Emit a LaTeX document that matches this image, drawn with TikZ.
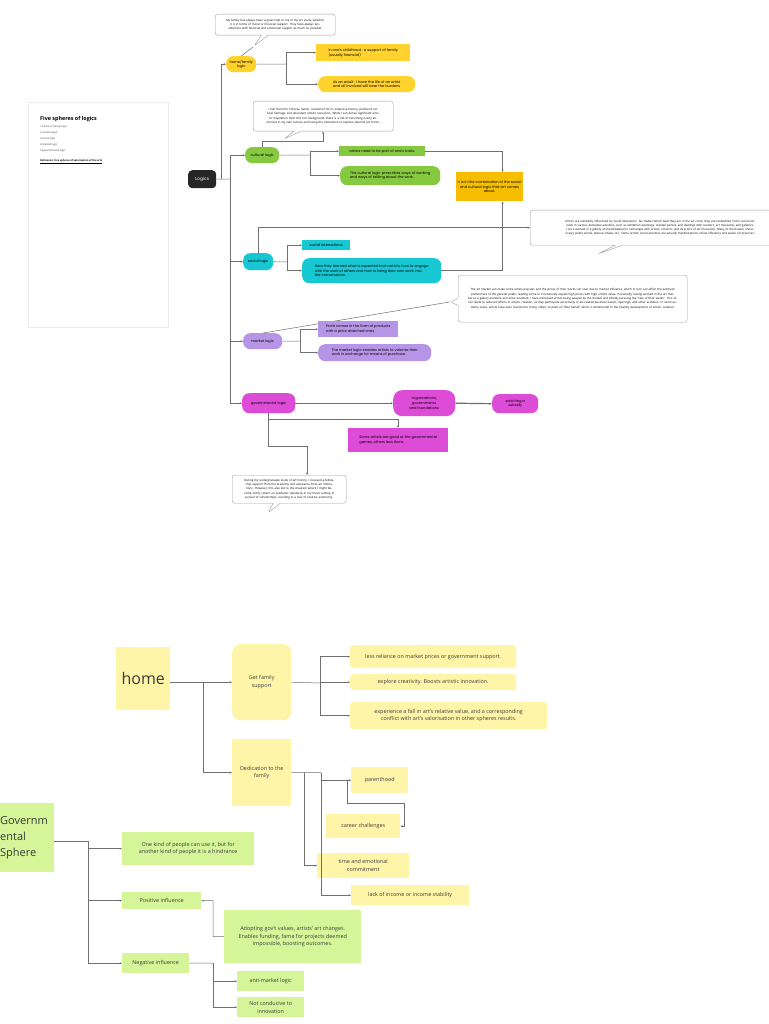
\documentclass[tikz,border=0pt]{standalone}
\usepackage{fontspec}
\setmainfont{Open Sans}
\newfontfamily\popfont{Poppins}
\usepackage{xcolor}
\usepackage{tikz}
\usetikzlibrary{arrows.meta,positioning,shapes.misc,shapes.callouts}

\definecolor{famyellow}{HTML}{FFD22E}
\definecolor{artorange}{HTML}{F7BD00}
\definecolor{culgreen}{HTML}{86C940}
\definecolor{soccyan}{HTML}{17C8D3}
\definecolor{mktpurple}{HTML}{B694E6}
\definecolor{govpink}{HTML}{DD4CD6}
\definecolor{stickyyellow}{HTML}{FFF5A8}
\definecolor{stickygreen}{HTML}{D6F598}
\definecolor{linegray}{HTML}{707070}
\definecolor{inkgray}{HTML}{3A3A3A}

\begin{document}
\begin{tikzpicture}[x=1pt,y=-1pt,
  link/.style={draw=linegray,line width=0.5pt,-{Stealth[length=2.4pt,width=2pt]}},
  stem/.style={draw=linegray,line width=0.5pt},
  note/.style={rectangle callout,draw=gray!75,fill=white,rounded corners=2.5pt,line width=0.4pt,
    font=\fontsize{2.9}{4.3}\selectfont,align=center,inner sep=2.5pt,anchor=north west,
    callout pointer width=7pt},
  pill/.style={rounded corners=7pt,font=\popfont\fontsize{3.6}{4.7}\selectfont,align=center,
    inner sep=1pt,anchor=north west},
  tag/.style={font=\popfont\fontsize{3.6}{4.7}\selectfont,align=left,inner sep=1.5pt,anchor=north west},
  sticky/.style={font=\fontsize{5.4}{7.6}\selectfont,text=inkgray,align=center,inner sep=2pt,
    anchor=north west},
]
\fill[white] (0,0) rectangle (768,1024);
\useasboundingbox (0,0) rectangle (768,1024);

% overview card
\node[draw=gray!15,fill=white,minimum width=140,minimum height=225,anchor=north west] (panel) at (28,102) {};
\node[anchor=north west,inner sep=0,font=\bfseries\fontsize{5.4}{6.5}\selectfont] (ptitle) at (40,116) {Five spheres of logics};
\node[anchor=north west,inner sep=0,align=left,font=\fontsize{2.6}{6}\selectfont,text=inkgray] (plist) at (40,125)
  {1.home or family logic\\2.cultural logic\\3.social logic\\4.market logic\\5.governmental logic};
\node[anchor=north west,inner sep=0,font=\bfseries\fontsize{2.5}{3}\selectfont] (pref) at (40,159)
  {\underline{Reference: Five spheres of valorisation of the arts}};

% root
\node[fill=black!85,text=white,rounded corners=4pt,minimum width=28,minimum height=18,anchor=north west,
  font=\popfont\fontsize{4.4}{5}\selectfont] (logics) at (188,170) {Logics};
\coordinate (trunk) at (230,179);
\coordinate (fb) at (221,179);

% family logic branch
\node[note,text width=115,minimum height=21,callout absolute pointer={(254,46)}] (famnote) at (215,14)
  {My family has always been a great help to me in my art study, whether it is in terms of moral or financial
   support. They have always provided me with financial and emotional support as much as possible.};
\node[pill,fill=famyellow,minimum width=30,minimum height=16] (family) at (226,56) {home/family\\logic};
\node[tag,fill=famyellow,minimum width=94,minimum height=17] (famA) at (316,44)
  {In one's childhood : a support of family\\(usually financial)};
\node[pill,fill=famyellow,minimum width=97,minimum height=16] (famB) at (318,76)
  {As an adult : I have the life of an artist\\and all involved will bear the burdens};
\coordinate (famb) at (286,64);
\draw[link] (fb) |- (family.west);
\draw[stem] (family.north) -- (famnote.pointer);
\draw[stem] (family.east) -- (famb);
\draw[link] (famb) |- (famA.west);
\draw[link] (famb) |- (famB.west);

% cultural logic branch
\node[note,text width=135,minimum height=30,callout absolute pointer={(284,139)}] (culnote) at (253,101)
  {I hail from the Chinese nation, renowned for its extensive history, profound cultural heritage, and abundant
   artistic resources. While I can derive significant artistic inspiration from this rich background, there is a
   risk of becoming overly immersed in my own culture and losing the motivation to explore external art forms.};
\node[pill,fill=culgreen,minimum width=34,minimum height=16] (cultural) at (245,147) {cultural logic};
\node[tag,fill=culgreen,minimum width=86,minimum height=10] (culA) at (339,146) {artists need to be part of one's traits.};
\node[pill,fill=culgreen,minimum width=100,minimum height=19,align=left] (culB) at (340,166)
  {The cultural logic prescribes ways of working\\and ways of talking about the work.};
\node[tag,fill=artorange,minimum width=61,minimum height=29,align=center] (combo) at (456,172)
  {It is in the combination of the social\\and cultural logic that art comes\\about.};
\coordinate (cn) at (323,141);
\coordinate (culb) at (310,155);
\draw[link] (cultural.north) |- (cn) -- (cn |- culnote.south);
\draw[stem] (cultural.east) -- (culb);
\draw[link] (culb) |- (culA.west);
\draw[link] (culb) |- (culB.west);
\draw[link] (culA.east) -| ([xshift=13pt]combo.north);

% social logic branch
\node[note,text width=210,minimum width=260,minimum height=35,callout absolute pointer={(598,254)}] (socnote) at (530,210)
  {Artists are inevitably influenced by social interaction. No matter which level they are in the art circle, they are
   embedded in the social network in various derivative activities, such as exhibition openings, cocktail parties, and
   dealings with curators, art museums, and galleries. I once worked in a gallery and participated in exchanges with
   artists, curators, and directors of art museums. Many of them were unnecessary polite words, tedious rituals, etc.
   Some artistic social activities are actually manifestations of low efficiency and waste of resources.};
\node[pill,fill=soccyan,minimum width=30,minimum height=17] (social) at (243,253) {social logic};
\node[tag,fill=soccyan,minimum width=48,minimum height=10] (socA) at (302,240) {social interactions};
\node[pill,fill=soccyan,minimum width=139,minimum height=25,align=left] (socB) at (302,258)
  {Here they learned what is expected from artists, how to engage\\with the work of others and how to bring their own work into\\the conversation.};
\coordinate (socb) at (287,262);
\draw[link] (social.north) |- (socnote.west);
\draw[stem] (social.east) -- (socb);
\draw[link] (socb) |- (socA.west);
\draw[link] (socb) |- (socB.west);
\draw[link] (socB.east) -| ([xshift=13pt]combo.south);

% market logic branch
\node[note,text width=224,minimum height=47,callout absolute pointer={(450,302)}] (mktnote) at (458,275)
  {The art market can make some artists popular, and the prices of their works can soar due to market influence, which in
   turn can affect the aesthetic preferences of the general public, leading some to erroneously equate high prices with high
   artistic value. Personally, having worked in the art market as a gallery assistant and artist assistant, I have witnessed
   artists being swayed by the market and blindly pursuing the ``sale of their works''. This often leads to reduced efforts in
   artistic creation, as they participate excessively in art-related business events, openings, and other activities. In some
   extreme cases, artists have even resorted to hiring others to paint on their behalf, which is detrimental to the healthy
   development of artistic creation.};
\draw[stem] (263,333) -- (mktnote.pointer);
\node[pill,fill=mktpurple,minimum width=39,minimum height=16] (market) at (243,333) {market logic};
\node[tag,fill=mktpurple,minimum width=80,minimum height=16] (mktA) at (318,321)
  {Profit comes in the form of products\\with a price attached ones};
\node[pill,fill=mktpurple,minimum width=113,minimum height=17,align=left] (mktB) at (318,344)
  {The market logic enables artists to valorise their\\work in exchange for means of purchase.};
\coordinate (mktb) at (300,341);
\draw[stem] (market.east) -- (mktb);
\draw[link] (mktb) |- (mktA.west);
\draw[link] (mktb) |- (mktB.west);

% governmental logic branch
\node[pill,fill=govpink,minimum width=53,minimum height=20] (gov) at (242,393) {governmental logic};
\node[pill,fill=govpink,minimum width=62,minimum height=26,rounded corners=9pt] (govOrg) at (393,390)
  {organizations,\\governments\\and foundations};
\node[pill,fill=govpink,minimum width=46,minimum height=19] (govSub) at (492,394) {soliciting a\\subsidy};
\node[tag,fill=govpink,minimum width=100,minimum height=24] (govA) at (348,428)
  {Some artists are good at the governmental\\games, others less there.};
\node[note,text width=109,minimum height=28,callout absolute pointer={(268,513)}] (govnote) at (232,475)
  {During my undergraduate study of art history, I received a fellowship support from the academy and assistance
   from art institutions. However, this also led to the situation where I might become overly reliant on academic
   standards in my thesis writing in pursuit of scholarships, resulting in a loss of creative autonomy.};
\coordinate (ga) at (398,419);
\coordinate (gn) at (307,446);
\draw[link,line width=1.2pt] (gov.east) -- (govOrg.west);
\draw[link,line width=1.2pt] (govOrg.east) -- (govSub.west);
\draw[link] (gov.south) |- (ga) -- (govA.north -| ga);
\draw[link] (gov.south) |- (gn) -- (gn |- govnote.north);

% trunk from the root
\draw[stem] (logics.east) -- (trunk);
\draw[link] (trunk) |- (cultural.west);
\draw[link] (trunk) |- (social.west);
\draw[link] (trunk) |- (market.west);
\draw[link] (trunk) |- (gov.west);

% home sphere
\node[sticky,fill=stickyyellow,minimum width=54,minimum height=63,font=\fontsize{16}{18}\selectfont] (home) at (116,647) {home};
\node[sticky,fill=stickyyellow,minimum width=59,minimum height=76,rounded corners=8pt] (getfam) at (232,644) {Get family\\support};
\node[sticky,fill=stickyyellow,minimum width=166,minimum height=23,rounded corners=3pt] (c1) at (350,645)
  {less reliance on market prices or government support.};
\node[sticky,fill=stickyyellow,minimum width=166,minimum height=16,rounded corners=3pt] (c2) at (350,674)
  {explore creativity. Boosts artistic innovation.};
\node[sticky,fill=stickyyellow,minimum width=197,minimum height=27,rounded corners=3pt] (c3) at (350,702)
  {experience a fall in art's relative value, and a corresponding\\conflict with art's valorisation in other spheres results.};
\node[sticky,fill=stickyyellow,minimum width=59,minimum height=67] (dedic) at (232,739) {Dedication to the\\family};
\node[sticky,fill=stickyyellow,minimum width=57,minimum height=26] (parent) at (351,767) {parenthood};
\node[sticky,fill=stickyyellow,minimum width=74,minimum height=24] (career) at (326,814) {career challenges};
\node[sticky,fill=stickyyellow,minimum width=92,minimum height=25] (timeb) at (317,853) {time and emotional\\commitment};
\node[sticky,fill=stickyyellow,minimum width=118,minimum height=20] (lack) at (351,885) {lack of income or income stability};
\coordinate (hb) at (203,683);
\coordinate (gb) at (320,683);
\coordinate (db1) at (304,772.5);
\coordinate (db2) at (321,772.5);
\coordinate (pc) at (404,803);
\draw[link] (home.east |- getfam.west) -- (getfam.west);
\draw[link] (hb) |- (dedic.west);
\draw[stem] (getfam.east) -- (gb);
\draw[link] (gb) |- (c1.west);
\draw[link] (gb) |- (c2.west);
\draw[link] (gb) |- (c3.west);
\draw[stem] (dedic.east) -- (db2);
\draw[link] (db1) |- (timeb.west);
\draw[link] (db2) |- (parent.west);
\draw[link] (db2) |- (lack.west);
\draw[link] ([xshift=-4pt]parent.west) |- (pc) |- (career.east);

% governmental sphere
\node[sticky,fill=stickygreen,minimum width=64,minimum height=69,text width=44,inner xsep=10pt,align=left,
  font=\fontsize{11}{16}\selectfont] (govsph) at (-10,803) {Governm\\ental\\Sphere};
\node[sticky,fill=stickygreen,minimum width=132,minimum height=33] (one) at (122,832)
  {One kind of people can use it, but for\\another kind of people it is a hindrance};
\node[sticky,fill=stickygreen,minimum width=79,minimum height=17] (pos) at (122,892) {Positive influence};
\node[sticky,fill=stickygreen,minimum width=137,minimum height=53] (adopt) at (224,910)
  {Adopting gov't values, artists' art changes.\\Enables funding, fame for projects deemed\\impossible, boosting outcomes.};
\node[sticky,fill=stickygreen,minimum width=67,minimum height=20] (neg) at (122,953) {Negative influence};
\node[sticky,fill=stickygreen,minimum width=67,minimum height=20] (anti) at (237,971) {anti-market logic};
\node[sticky,fill=stickygreen,minimum width=67,minimum height=20] (notc) at (237,997) {Not conducive to\\innovation};
\coordinate (gs) at (88,841);
\coordinate (ab) at (213,936.5);
\coordinate (nb) at (213,963);
\draw[stem] (govsph.east |- gs) -- (gs);
\draw[link] (gs) |- (one.west);
\draw[link] (gs) |- (pos.west);
\draw[link] (gs) |- (neg.west);
\draw[link] (adopt.west) -- (ab) |- (pos.east);
\draw[stem] (neg.east) -- (nb);
\draw[link] (nb) |- (anti.west);
\draw[link] (nb) |- (notc.west);
\end{tikzpicture}
\end{document}
